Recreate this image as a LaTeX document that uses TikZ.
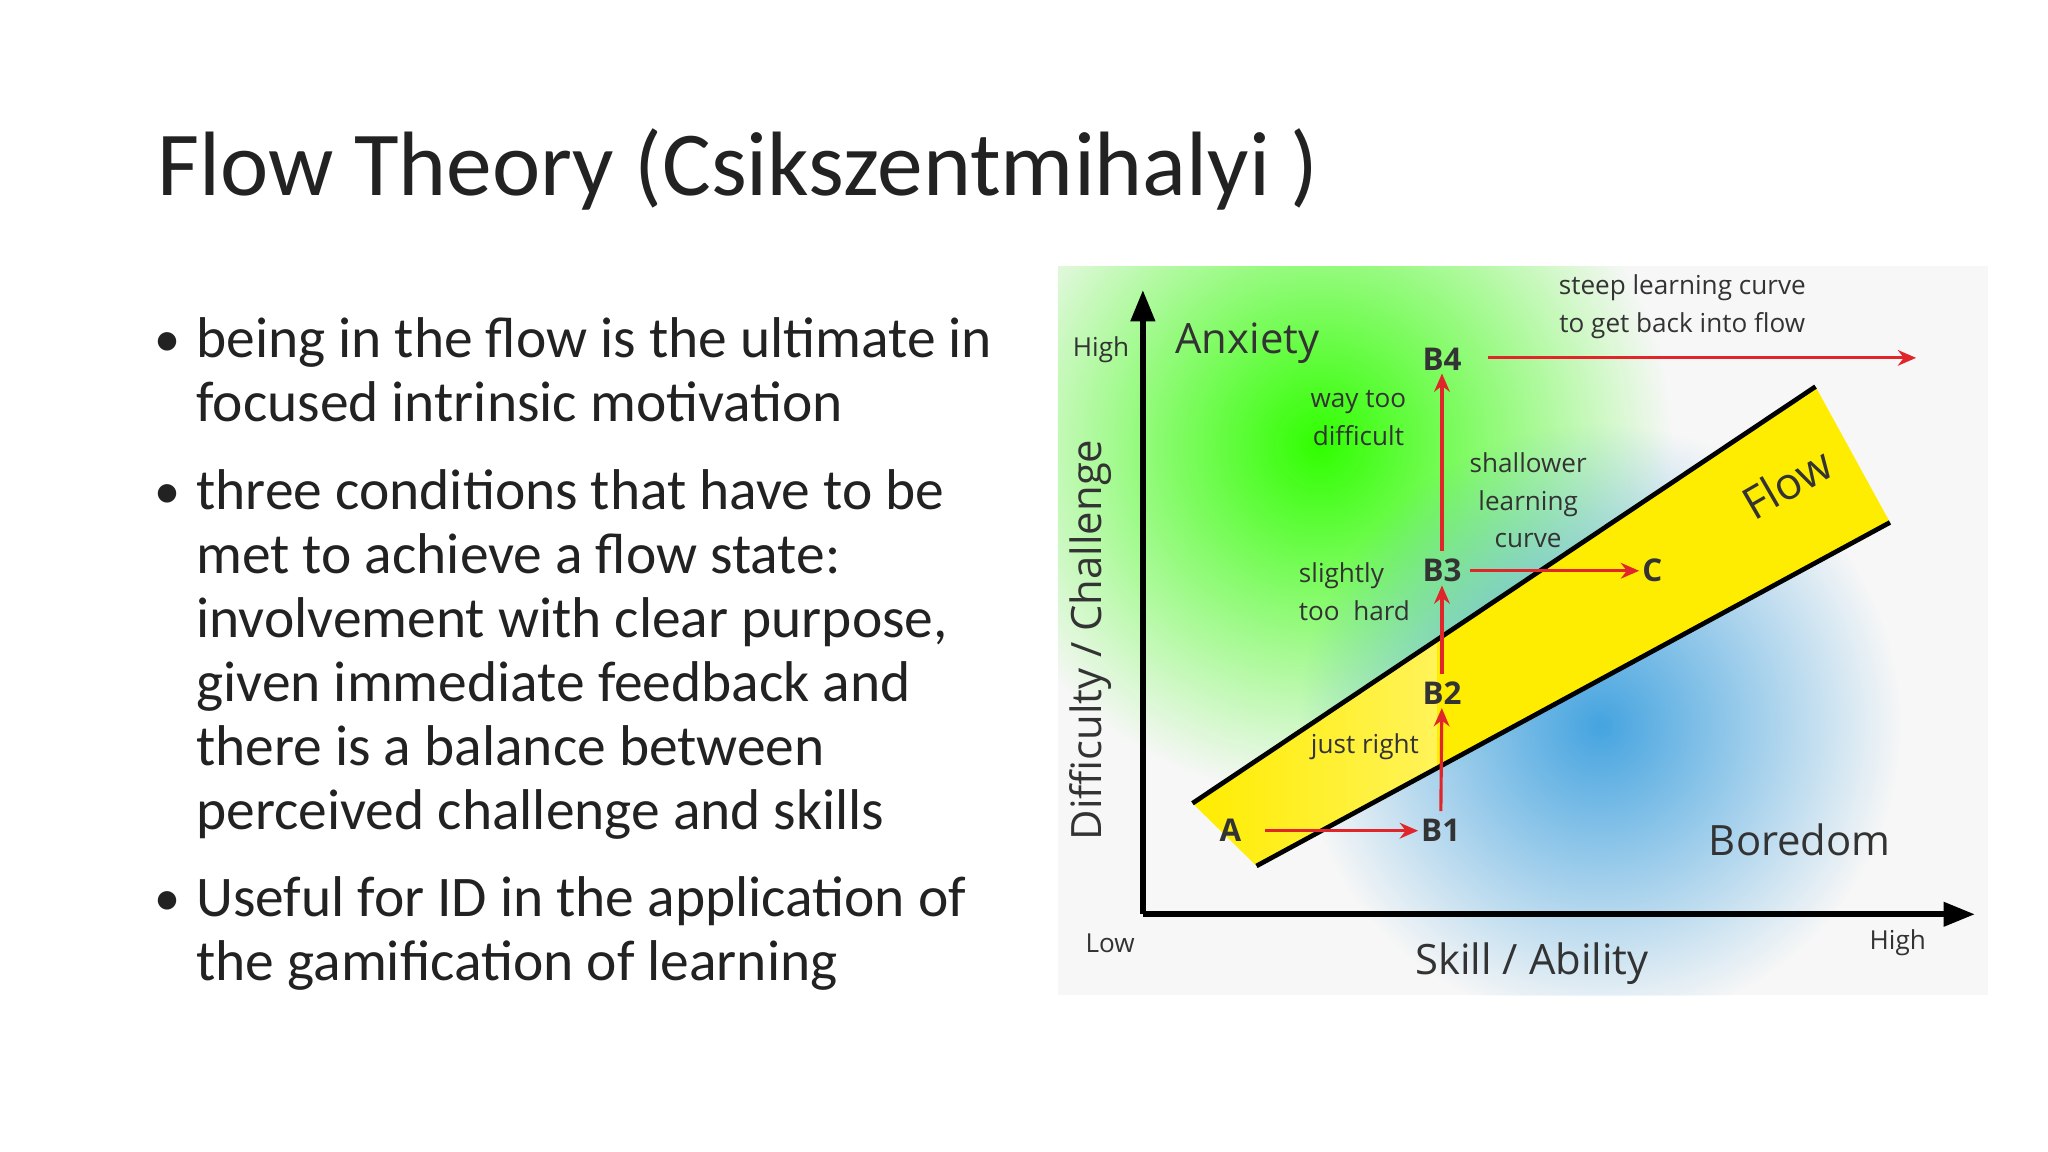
\documentclass[tikz,border=0pt]{standalone}
\usepackage{fontspec}
\setmainfont{Carlito}
\newfontfamily\dfont{Open Sans}
\usetikzlibrary{fadings,arrows.meta}
\tikzfading[name=blob, inner color=transparent!0, outer color=transparent!100]
\definecolor{txt}{HTML}{222222}
\definecolor{dtxt}{HTML}{333333}
\definecolor{arr}{HTML}{E0262A}
\tikzset{
 bul/.style={anchor=north west,align=left,inner sep=0,font=\fontsize{22}{24.5}\selectfont,text=txt},
 dl/.style={font=\dfont\fontsize{10}{14.5}\selectfont,text=dtxt,align=center,inner sep=1pt},
 bl/.style={font=\dfont\bfseries\fontsize{12}{14}\selectfont,text=dtxt,inner sep=1pt},
 big/.style={font=\dfont\fontsize{16}{18}\selectfont,text=dtxt,inner sep=1pt},
 ax/.style={font=\dfont\fontsize{10}{12}\selectfont,text=dtxt,inner sep=1pt},
 ra/.style={draw=arr,line width=1.2pt,shorten <=2pt,-{Stealth[length=7pt,width=6pt]}},
}
\begin{document}
\begin{tikzpicture}[x=0.5pt,y=-0.5pt]
\useasboundingbox (0,0) rectangle (1568,882);
\fill[white] (0,0) rectangle (1568,882);
\node[anchor=west,inner sep=0,font=\fontsize{35}{38}\selectfont,text=txt] (title) at (120,130) {Flow Theory (Csikszentmihalyi )};
% bullets
\node[bul] (b1) at (150,243) {being in the flow is the ultimate in\\focused intrinsic motivation};
\node[bul] (b2) at (150,359) {three conditions that have to be\\met to achieve a flow state:\\involvement with clear purpose,\\given immediate feedback and\\there is a balance between\\perceived challenge and skills};
\node[bul] (b3) at (150,671) {Useful for ID in the application of\\the gamification of learning};
\foreach \y in {264,380,692} \node[font=\fontsize{20}{24}\selectfont,text=txt,inner sep=0] at (128,\y) {\textbullet};
% diagram
\fill[white!97!black] (810,204) rectangle (1522,762);
\begin{scope}
\clip (810,204) rectangle (1522,762);
\fill[green!75!lime, path fading=blob] (1010,340) circle (270);
\fill[cyan!75!blue!75, path fading=blob] (1225,555) circle (230);
\end{scope}
\fill[yellow!95!orange] (913,615) -- (1390,296) -- (1447,400) -- (962,663) -- cycle;
\fill[white,opacity=0.35,path fading=west] (913,615) -- (1100,490) -- (1100,590) -- (962,663) -- cycle;
\draw[black,line width=1.8pt] (913,615) -- (1390,296);
\draw[black,line width=1.8pt] (962,663) -- (1447,400);
\coordinate (o) at (875,700);
\coordinate (yt) at (875,222);
\coordinate (xr) at (1512,700);
\draw[black,line width=2.2pt,-{Triangle[length=12pt,width=9pt]}] (o) -- (yt);
\draw[black,line width=2.2pt,-{Triangle[length=12pt,width=9pt]}] (o) -- (xr);
\node[ax] (hi) at (843,268) {High};
\node[ax] (lo) at (850,722) {Low};
\node[ax] (hi2) at (1453,722) {High};
\node[big] (skill) at (1173,738) {Skill / Ability};
\node[big,rotate=90] (diff) at (835,490) {Difficulty / Challenge};
\node[big] (anx) at (955,263) {Anxiety};
\node[big] (bor) at (1378,643) {Boredom};
\node[big,rotate=30,font=\dfont\fontsize{17}{18}\selectfont] (flow) at (1368,370) {Flow};
\node[dl] (steep) at (1288,235) {steep learning curve\\to get back into flow};
\node[dl] (way) at (1040,320) {way too\\difficult};
\node[dl] (shal) at (1170,383) {shallower\\learning\\curve};
\node[dl,align=left] (sl) at (1037,453) {slightly\\too\ \ hard};
\node[dl] (jr) at (1045,572) {just right};
\node[bl] (B4) at (1104,275) {B4};
\node[bl] (B3) at (1104,437) {B3};
\node[bl] (B2) at (1104,531) {B2};
\node[bl] (B1) at (1103,636) {B1};
\node[bl] (A) at (942,636) {A};
\node[bl] (C) at (1265,437) {C};
\coordinate (far) at (1467,274);
\coordinate (b4e) at (1135,274);
\draw[ra,shorten <=8pt] (A) -- (B1);
\draw[ra] (B1) -- (B2);
\draw[ra] (B2) -- (B3);
\draw[ra] (B3) -- (B4);
\draw[ra] (B3) -- (C);
\draw[ra] (b4e) -- (far);
\end{tikzpicture}
\end{document}
